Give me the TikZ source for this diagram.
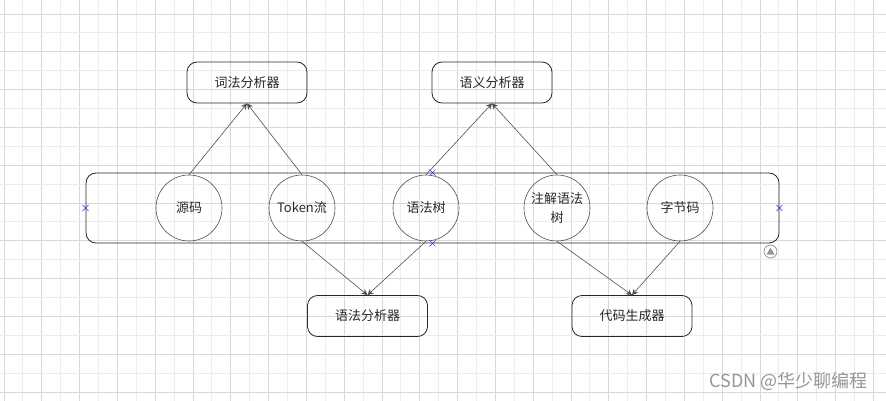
\documentclass[tikz,border=0pt]{standalone}
\usepackage{fontspec}
\setmainfont{Noto Sans CJK SC}
\usetikzlibrary{arrows.meta,positioning,calc}

\definecolor{gridmaj}{RGB}{216,216,216}
\definecolor{gridmin}{RGB}{236,236,236}
\definecolor{edgegray}{RGB}{80,80,80}
\definecolor{inkgray}{RGB}{40,40,40}
\definecolor{selblue}{RGB}{40,40,235}
\definecolor{wmgray}{RGB}{150,150,150}

\begin{document}
\begin{tikzpicture}[x=1pt,y=-1pt,
    box/.style = {draw=inkgray,rounded corners=10pt,line width=0.8pt,minimum width=120pt,minimum height=41pt,text=inkgray,font=\fontsize{13}{16}\selectfont},
    tok/.style = {draw=edgegray,circle,line width=0.6pt,minimum size=66pt,inner sep=0pt,align=center,text=inkgray,font=\fontsize{13}{19}\selectfont},
    flow/.style = {draw=edgegray,line width=0.6pt,-{Stealth[length=6pt,width=6pt]}},
    selx/.style = {draw=selblue,line width=0.5pt}]
    \useasboundingbox (0,0) rectangle (886,401);

    % background grid
    \foreach \k in {0,...,46} {
        \ifodd\k \def\gc{gridmin}\else\def\gc{gridmaj}\fi
        \draw[\gc,line width=0.9pt] ({4+18.9*\k},0) -- ({4+18.9*\k},401);
    }
    \foreach \k in {0,...,20} {
        \ifodd\k \def\gc{gridmin}\else\def\gc{gridmaj}\fi
        \draw[\gc,line width=0.9pt] (0,{14+18.9*\k}) -- (886,{14+18.9*\k});
    }

    \node[draw=inkgray,rounded corners=10pt,line width=0.8pt,minimum width=693pt,minimum height=70pt,inner sep=0pt] (stages) at (432.5,208) {};

    \node[tok] (src) at (189,208) {源码};
    \node[tok] (tokens) at (302,208) {Token流};
    \node[tok] (ast) at (426,208) {语法树};
    \node[tok] (tast) at (557,208) {注解语法\\树};
    \node[tok] (bytecode) at (680,208) {字节码};

    \node[box] (lexer) at (247,82.5) {词法分析器};
    \node[box] (sema) at (492,82.5) {语义分析器};
    \node[box] (parser) at (367.5,316) {语法分析器};
    \node[box] (codegen) at (632,316) {代码生成器};

    \path[every edge/.append style={flow}]
    (src.north) edge (lexer.south)
    (tokens.north) edge (lexer.south)
    (ast.north) edge (sema.south)
    (tast.north) edge (sema.south)
    (tokens.south) edge (parser.north)
    (ast.south) edge (parser.north)
    (tast.south) edge (codegen.north)
    (bytecode.south) edge (codegen.north)
    ;

    % selection handles
    \foreach \p in {stages.west,stages.east,stages.north,stages.south} {
        \draw[selx] ($(\p)+(-3,-3)$) -- ($(\p)+(3,3)$) ($(\p)+(-3,3)$) -- ($(\p)+(3,-3)$);
    }
    \draw[wmgray,line width=0.8pt] (770.5,251.5) circle (6.5);
    \fill[wmgray] (766.5,254.5) -- (774.5,254.5) -- (770.5,247.5) -- cycle;

    \node[anchor=east,text=wmgray,font=\fontsize{18}{21}\selectfont] (wm) at (871,381) {CSDN @华少聊编程};
\end{tikzpicture}
\end{document}
